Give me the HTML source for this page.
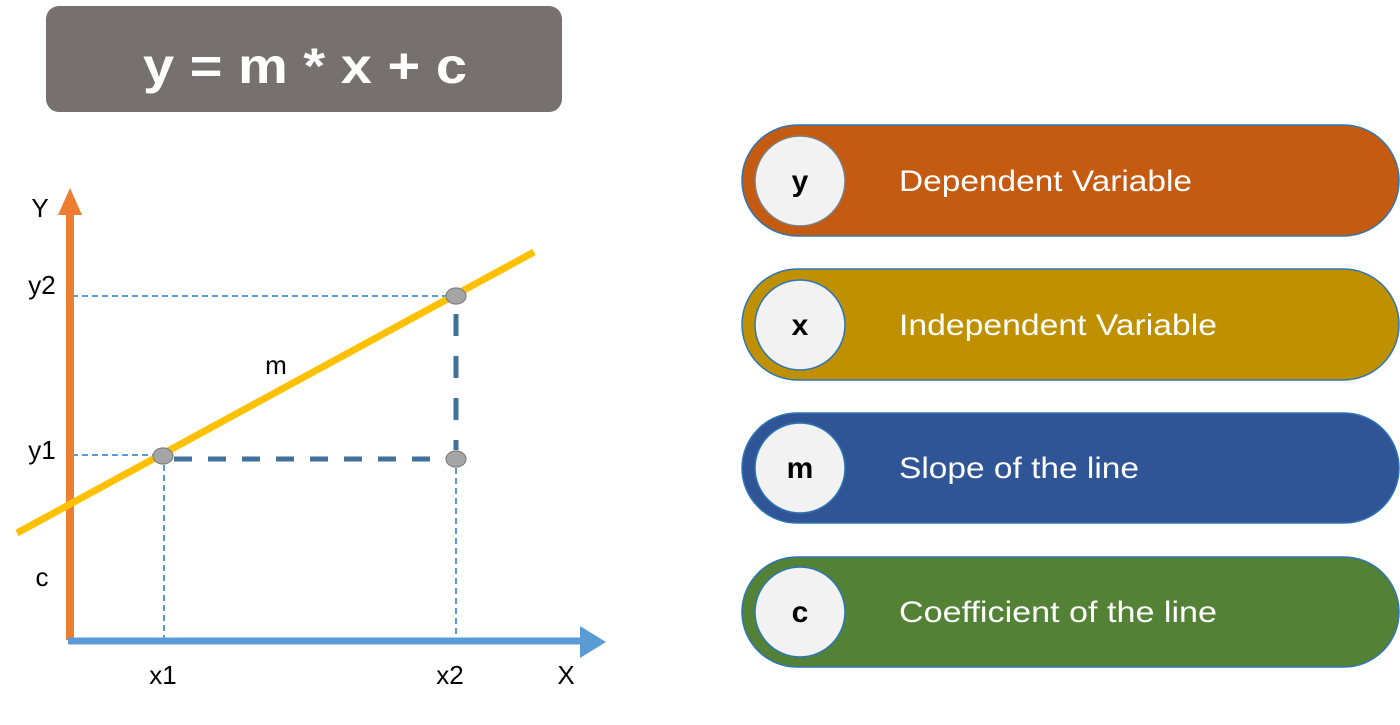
<!DOCTYPE html>
<html><head><meta charset="utf-8"><style>
body{margin:0;width:1400px;height:720px;background:#fff;overflow:hidden;font-family:"Liberation Sans",sans-serif}
</style></head><body>
<svg width="1400" height="720" viewBox="0 0 1400 720" xmlns="http://www.w3.org/2000/svg" font-family="Liberation Sans, sans-serif">
<rect x="46" y="6" width="516" height="106" rx="13" fill="#767170"/>
<text x="143" y="83" textLength="324" lengthAdjust="spacingAndGlyphs" font-size="50" font-weight="bold" fill="#fff">y = m * x + c</text>

<g stroke="#5b9bd5" stroke-width="2" stroke-dasharray="6,4" fill="none">
<line x1="72" y1="296" x2="446" y2="296"/>
<line x1="72" y1="455" x2="153" y2="455"/>
<line x1="164" y1="465" x2="164" y2="638"/>
<line x1="456" y1="468" x2="456" y2="638"/>
</g>
<g stroke="#41719c" stroke-width="5" stroke-dasharray="18,16" fill="none">
<line x1="174" y1="459" x2="446" y2="459"/>
<line x1="456" y1="314" x2="456" y2="450" stroke-dasharray="22,20"/>
</g>
<line x1="70" y1="640" x2="70" y2="212" stroke="#ed7d31" stroke-width="8"/>
<polygon points="58,215 82,215 70,188" fill="#ed7d31"/>
<line x1="68" y1="641" x2="584" y2="641" stroke="#5b9bd5" stroke-width="7"/>
<polygon points="580,626 580,658 606,642" fill="#5b9bd5"/>
<line x1="17" y1="533" x2="534" y2="252" stroke="#ffc000" stroke-width="7"/>
<g fill="#a5a5a5" stroke="#7f7f7f" stroke-width="1.2">
<ellipse cx="163" cy="456" rx="10" ry="8"/>
<ellipse cx="456" cy="296" rx="10" ry="8"/>
<ellipse cx="456" cy="459" rx="10" ry="8"/>
</g>
<g font-size="26" fill="#000" text-anchor="middle">
<text x="40" y="217">Y</text>
<text x="42" y="294">y2</text>
<text x="276" y="374">m</text>
<text x="42" y="459">y1</text>
<text x="42" y="586">c</text>
<text x="163" y="684">x1</text>
<text x="450" y="684">x2</text>
<text x="566" y="684">X</text>
</g>

<g stroke="#2e75b6" stroke-width="1.5">
<rect x="742" y="125" width="657" height="111" rx="55.5" fill="#c55a11"/>
<rect x="742" y="269" width="657" height="111" rx="55.5" fill="#bf9000"/>
<rect x="742" y="413" width="657" height="110" rx="55" fill="#2f5597"/>
<rect x="742" y="557" width="657" height="110" rx="55" fill="#538135"/>
</g>
<g fill="#f2f2f2" stroke-width="1.5">
<ellipse cx="800" cy="181" rx="45" ry="45" stroke="#7f7f7f"/>
<ellipse cx="800" cy="325" rx="45" ry="45" stroke="#2e75b6"/>
<ellipse cx="800" cy="468" rx="45" ry="45" stroke="#2e75b6"/>
<ellipse cx="800" cy="612" rx="45" ry="45" stroke="#2e75b6"/>
</g>
<g font-size="30" font-weight="bold" fill="#000" text-anchor="middle">
<text x="800" y="191">y</text>
<text x="800" y="335">x</text>
<text x="800" y="478">m</text>
<text x="800" y="622">c</text>
</g>
<g font-size="30" fill="#fff" lengthAdjust="spacingAndGlyphs">
<text x="899" y="191" textLength="293" lengthAdjust="spacingAndGlyphs">Dependent Variable</text>
<text x="899" y="335" textLength="318" lengthAdjust="spacingAndGlyphs">Independent Variable</text>
<text x="899" y="478" textLength="240" lengthAdjust="spacingAndGlyphs">Slope of the line</text>
<text x="899" y="622" textLength="318" lengthAdjust="spacingAndGlyphs">Coefficient of the line</text>
</g>
</svg>
</body></html>
